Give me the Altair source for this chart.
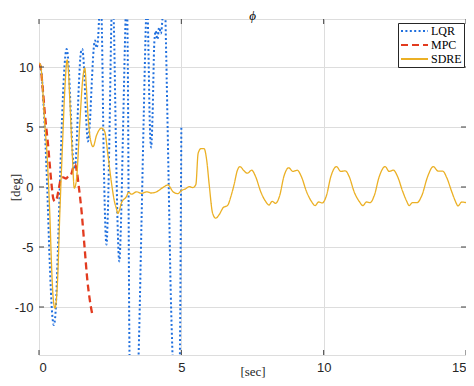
import altair as alt
import pandas as pd

series_names = ["LQR", "MPC", "SDRE"]
series_colors = ["#1f6fde", "#e23b1f", "#ebb025"]
series_dashes = [[2, 2.4], [7, 4], [1, 0]]
x_ticks = [0, 5, 10, 15]
y_ticks = [-10, -5, 0, 5, 10]

lqr_t = [0.0, 0.08, 0.18, 0.28, 0.38, 0.46, 0.52, 0.58, 0.66, 0.75, 0.84, 0.92, 0.97, 1.03,
         1.12, 1.2, 1.26, 1.32, 1.4, 1.47, 1.52, 1.58, 1.65, 1.72, 1.79, 1.86, 1.92, 1.97,
         2.02, 2.07, 2.12, 2.17, 2.21, 2.27, 2.32, 2.37, 2.42, 2.48, 2.54, 2.58, 2.63, 2.7,
         2.76, 2.82, 2.88, 2.95, 3.03, 3.08, 3.12, 3.18, 3.3, 3.45, 3.52, 3.6, 3.68, 3.76,
         3.8, 3.84, 3.89, 3.94, 3.99, 4.05, 4.1, 4.16, 4.22, 4.28, 4.35, 4.41, 4.46, 4.55,
         4.63, 4.69, 4.8, 4.9, 4.95, 5.0]
lqr_v = [10.2, 9.6, 6.0, 0.5, -6.5, -10.5, -11.5, -10.5, -5.5, 1.5, 7.5, 10.8, 11.5, 10.5,
         6.0, 2.2, 1.5, 3.5, 8.5, 11.2, 11.5, 10.0, 6.0, 3.8, 5.5, 9.0, 11.5, 12.2,
         11.6, 12.2, 14.5, 16.5, 13.0, 3.0, -2.5, -4.8, -2.0, 5.0, 13.5, 16.5, 13.5, 4.0,
         -3.0, -6.2, -3.0, 4.5, 13.0, 17.0, 10.0, -14.0, -24.0, -18.0, -12.0, -3.0, 6.0, 14.0,
         16.0, 12.0, 5.5, 3.3, 6.0, 12.0, 13.0, 12.3, 13.3, 12.8, 14.5, 17.0, 12.0, 1.0,
         -9.0, -14.0, -22.0, -20.0, -14.0, 5.0]

mpc_t = [0.0, 0.05, 0.12, 0.21, 0.33, 0.38, 0.45, 0.5, 0.56, 0.62, 0.7, 0.77, 0.85, 0.95,
         1.03, 1.12, 1.2, 1.27, 1.33, 1.4, 1.49, 1.6, 1.7, 1.79, 1.87]
mpc_v = [10.3, 10.1, 8.5, 6.0, 3.2, 1.8, 0.0, -0.95, -1.2, -1.0, -0.1, 0.7, 0.8, 0.7,
         0.9, 1.0, 1.6, 1.9, 1.3, 0.0, -1.9, -5.0, -7.8, -9.5, -10.6]

sdre_t = [0.0, 0.05, 0.1, 0.15, 0.21, 0.27, 0.33, 0.38, 0.44, 0.5, 0.56, 0.61, 0.65, 0.73,
          0.82, 0.91, 0.99, 1.03, 1.08, 1.17, 1.24, 1.32, 1.43, 1.55, 1.61, 1.66, 1.72, 1.82,
          1.9, 2.02, 2.19, 2.31, 2.42, 2.54, 2.65, 2.72, 2.77, 2.83, 2.89, 3.07, 3.15, 3.25,
          3.43, 3.6, 3.78, 3.95, 4.13, 4.36, 4.53, 4.71, 4.88, 5.0, 5.15, 5.28, 5.4, 5.51,
          5.59, 5.69, 5.8, 5.89, 5.98, 6.1, 6.21, 6.33, 6.48, 6.62, 6.74, 6.85, 6.97, 7.06,
          7.2, 7.32, 7.47, 7.61, 7.79, 7.96, 8.08, 8.19, 8.31, 8.46, 8.6, 8.77, 8.92, 9.07,
          9.22, 9.4, 9.57, 9.7, 9.82, 9.95, 10.1, 10.25, 10.45, 10.6, 10.76, 10.9, 11.07, 11.25,
          11.38, 11.5, 11.63, 11.78, 11.95, 12.16, 12.3, 12.45, 12.6, 12.78, 12.92, 13.0, 13.12,
          13.28, 13.45, 13.65, 13.85, 14.02, 14.18, 14.32, 14.5, 14.63, 14.72, 14.85, 15.0]
sdre_v = [10.3, 10.2, 9.2, 7.4, 5.0, 3.2, 0.5, -2.3, -6.5, -9.3, -10.1, -9.4, -7.9, -2.3,
          3.2, 8.25, 10.6, 9.8, 7.4, 2.7, -0.1, 0.7, 5.2, 9.3, 9.9, 8.5, 6.0, 3.8,
          3.36, 4.3, 4.9, 4.6, 2.7, 0.45, -1.2, -1.8, -2.2, -1.9, -1.36, -0.8, -0.45, -0.6,
          -0.4, -0.53, -0.4, -0.5, -0.4, -0.03, 0.17, -0.4, -0.55, -0.3, -0.15, 0.03, -0.05, 0.2,
          2.8, 3.2, 3.2, 2.25, 0.17, -2.2, -2.6, -2.3, -1.7, -1.55, -0.8, 0.17, 1.4, 1.7,
          1.35, 1.15, 1.4, 0.86, -0.4, -1.2, -1.5, -1.2, -1.36, -0.67, 0.86, 1.6, 1.3, 1.4,
          0.85, -0.4, -1.2, -1.55, -1.25, -1.33, -0.7, 0.85, 1.7, 1.3, 1.35, 0.85, -0.4, -1.2,
          -1.55, -1.25, -1.3, -0.7, 0.85, 1.7, 1.3, 1.4, 0.85, -0.4, -1.2, -1.55, -1.3,
          -1.3, -0.7, 0.85, 1.7, 1.33, 1.33, 0.8, -0.4, -1.2, -1.58, -1.25, -1.3]

W, H = 427, 336
AX = "#404040"
TXT = "#262626"

x_scale = alt.Scale(domain=[0, 15], nice=False, zero=False)
y_scale = alt.Scale(domain=[-14, 14], nice=False, zero=False)
color_scale = alt.Scale(domain=series_names, range=series_colors)
dash_scale = alt.Scale(domain=series_names, range=series_dashes)

legend = alt.Legend(
    title=None, orient="none", legendX=359, legendY=4, direction="vertical",
    symbolType="stroke", symbolSize=729, symbolStrokeWidth=2, clipHeight=12,
    labelFont="Liberation Serif", labelFontSize=12, labelColor="#000000",
    labelOffset=2, rowPadding=2, padding=2,
    strokeColor=TXT, fillColor="#ffffff", cornerRadius=0,
)

x_axis = alt.Axis(
    title="[sec]", values=x_ticks, grid=True, domain=False, ticks=False, tickSize=0,
    labelPadding=6, labelFont="Liberation Sans", labelFontSize=13, labelColor=TXT,
    labelFlush=True, labelFlushOffset=0,
    titleFont="Liberation Serif", titleFontSize=13, titleFontWeight="normal",
    titleColor=TXT, titleY=16, titleBaseline="middle",
)
y_axis = alt.Axis(
    title="[deg]", values=y_ticks, grid=True, domain=False, ticks=False, tickSize=0,
    labelPadding=6, labelFont="Liberation Sans", labelFontSize=13, labelColor=TXT,
    labelExpr="datum.value + ''", labelFlush=False,
    titleFont="Liberation Serif", titleFontSize=13, titleFontWeight="normal",
    titleColor=TXT, titleX=-24, titleY=H / 2, titleBaseline="middle", titleAngle=-90,
)


def series_df(name, ts, vs):
    return pd.DataFrame({"t": ts, "v": vs, "series": [name] * len(ts)})


def line_layer(df, width):
    return alt.Chart(df).mark_line(clip=True, strokeWidth=width, interpolate="monotone").encode(
        x=alt.X("t:Q", scale=x_scale, axis=x_axis),
        y=alt.Y("v:Q", scale=y_scale, axis=y_axis),
        color=alt.Color("series:N", scale=color_scale, legend=legend),
        strokeDash=alt.StrokeDash("series:N", scale=dash_scale, legend=legend),
    )


lqr = line_layer(series_df("LQR", lqr_t, lqr_v), 2.0)
mpc = line_layer(series_df("MPC", mpc_t, mpc_v), 2.3)
sdre = line_layer(series_df("SDRE", sdre_t, sdre_v), 1.3)

xt = pd.DataFrame({"t": x_ticks})
yt = pd.DataFrame({"v": y_ticks})
tick_bottom = alt.Chart(xt).mark_rule(color=AX, strokeWidth=1).encode(
    x=alt.X("t:Q", scale=x_scale, axis=x_axis), y=alt.value(H), y2=alt.value(H - 5))
tick_top = alt.Chart(xt).mark_rule(color=AX, strokeWidth=1).encode(
    x=alt.X("t:Q", scale=x_scale, axis=x_axis), y=alt.value(0), y2=alt.value(5))
tick_left = alt.Chart(yt).mark_rule(color=AX, strokeWidth=1).encode(
    y=alt.Y("v:Q", scale=y_scale, axis=y_axis), x=alt.value(0), x2=alt.value(5))
tick_right = alt.Chart(yt).mark_rule(color=AX, strokeWidth=1).encode(
    y=alt.Y("v:Q", scale=y_scale, axis=y_axis), x=alt.value(W), x2=alt.value(W - 5))

chart = alt.layer(
    lqr, mpc, sdre, tick_bottom, tick_top, tick_left, tick_right
).properties(
    width=W, height=H,
    title=alt.TitleParams("ϕ", font="Liberation Serif", fontStyle="italic", fontSize=13,
                          fontWeight="normal", color="#000000", anchor="middle",
                          baseline="middle", offset=4, dy=14),
    autosize=alt.AutoSizeParams(type="none"),
    padding={"left": 31, "top": 11, "right": 0, "bottom": 23},
).configure_view(
    stroke=AX, strokeWidth=1
).configure_axis(
    gridColor="#e6e6e6", gridWidth=1
).configure(background="#ffffff")

chart.save("out.html", embed_options={"renderer": "svg", "actions": False})
